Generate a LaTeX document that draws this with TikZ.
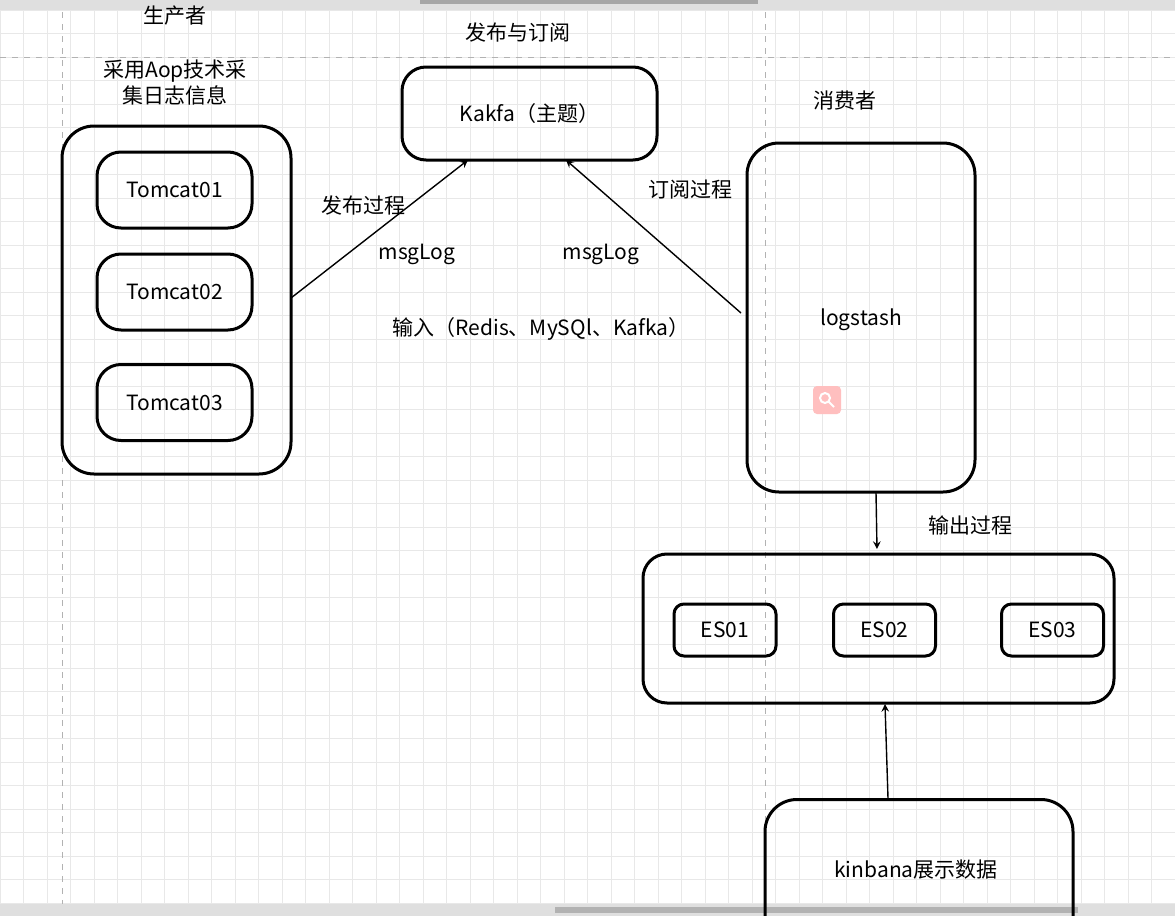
\documentclass[tikz,border=0pt]{standalone}
\usepackage{fontspec}
\setmainfont{DejaVu Sans}
\newfontfamily\cjk{Noto Sans CJK SC}
\usetikzlibrary{positioning,calc}
\definecolor{gridgray}{RGB}{232,232,232}
\begin{document}
\begin{tikzpicture}[
    x=0.5pt,y=-0.5pt,
    box/.style={draw=black,line width=1.5pt,rounded corners=12pt,align=center,font=\cjk\fontsize{10.5}{12}\selectfont},
    bigbox/.style={draw=black,line width=1.5pt,rounded corners=16pt},
    lbl/.style={font=\cjk\fontsize{10.5}{13}\selectfont,align=center},
    arrow/.style={->,>=stealth,line width=0.7pt}
]
    \clip (0,0) rectangle (1175,916);
    \useasboundingbox (0,0) rectangle (1175,916);
    \fill[white] (0,0) rectangle (1175,916);
    % background grid
    \foreach \gx in {0,23.5,...,1175} \draw[gridgray,line width=0.3pt] (\gx,0) -- (\gx,916);
    \foreach \gy in {10,33.5,...,916} \draw[gridgray,line width=0.3pt] (0,\gy) -- (1175,\gy);
    \draw[gray!60,dashed,line width=0.4pt] (62,0) -- (62,916);
    \draw[gray!60,dashed,line width=0.4pt] (765,0) -- (765,916);
    \draw[gray!60,dashed,line width=0.4pt] (0,57) -- (1175,57);
    \fill[gray!25] (0,0) rectangle (1175,10);
    \fill[gray!70] (420,0) rectangle (758,4);
    \fill[gray!25] (0,904) rectangle (1175,916);
    \fill[gray!60] (555,907) rectangle (1078,913);

    % producers
    \node[bigbox,minimum width=114.5pt,minimum height=174pt] (producer) at (176.5,300) {};
    \node[box,minimum width=77.5pt,minimum height=38pt] (tomcat1) at (174.5,190) {Tomcat01};
    \node[box,minimum width=77.5pt,minimum height=38pt] (tomcat2) at (174.5,292) {Tomcat02};
    \node[box,minimum width=77.5pt,minimum height=38pt] (tomcat3) at (174.5,402.5) {Tomcat03};
    % broker
    \node[box,minimum width=127.5pt,minimum height=46.5pt] (kafka) at (529.5,113.5) {Kakfa（主题）};
    % consumer
    \node[bigbox,minimum width=114pt,minimum height=174.5pt] (logstash) at (861,317.5) {};
    \node[lbl] at (861,320) {logstash};
    \node[fill=red!25,rounded corners=2pt,minimum size=14pt,inner sep=0pt] (search) at (827,400) {};
    \draw[white,line width=1pt] ([shift={(-2,-2)}]search.center) circle (5) ($(search.center)+(2,2)$) -- ($(search.center)+(7,7)$);
    % storage
    \node[bigbox,rounded corners=12pt,minimum width=235.5pt,minimum height=74.5pt] (esgroup) at (878.5,628.5) {};
    \node[box,rounded corners=5pt,minimum width=51pt,minimum height=26pt] (es1) at (725,630) {ES01};
    \node[box,rounded corners=5pt,minimum width=51pt,minimum height=26pt] (es2) at (884.5,630) {ES02};
    \node[box,rounded corners=5pt,minimum width=51pt,minimum height=26pt] (es3) at (1052.5,630) {ES03};
    % viewer
    \node[bigbox,minimum width=154pt,minimum height=80pt,anchor=north] (kibana) at (919,798) {};
    \node[lbl] at (916,870) {kinbana展示数据};

    % labels
    \node[lbl] (prodtitle) at (175,16) {生产者};
    \node[lbl] (aop) at (175,83) {采用Aop技术采\\集日志信息};
    \node[lbl] (pubsub) at (518,33) {发布与订阅};
    \node[lbl] (consumer) at (845,101) {消费者};
    \node[lbl] (pub) at (363,206) {发布过程};
    \node[lbl] (msg1) at (417,254) {msgLog};
    \node[lbl] (msg2) at (601,254) {msgLog};
    \node[lbl] (sub) at (690,190) {订阅过程};
    \node[lbl] (input) at (541,329) {输入（Redis、MySQl、Kafka）};
    \node[lbl] (output) at (970,525) {输出过程};

    % connectors
    \coordinate (pa) at (291,298);
    \coordinate (ka) at (468,160);
    \coordinate (la) at (741,313);
    \coordinate (kb) at (566,160);
    \coordinate (lb) at (876,492);
    \coordinate (ea) at (877,549);
    \coordinate (kc) at (888,798);
    \coordinate (eb) at (885,704);
    \draw[arrow] (pa) -- (ka);
    \draw[arrow] (la) -- (kb);
    \draw[arrow] (lb) -- (ea);
    \draw[arrow] (kc) -- (eb);
\end{tikzpicture}
\end{document}
